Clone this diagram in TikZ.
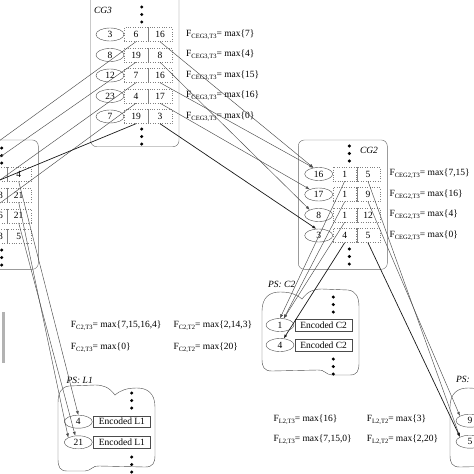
\documentclass[tikz,border=0pt]{standalone}
\usepackage{fontspec}
\setmainfont{Liberation Serif}
\usetikzlibrary{positioning, calc}
\usetikzlibrary{shapes,arrows.meta}
\tikzstyle{ent} = [ellipse, draw=black!70, minimum width=28pt, minimum height=13pt, inner sep=0pt]
\tikzstyle{cell} = [rectangle, draw=black!50, dotted, minimum width=24pt, minimum height=14pt, inner sep=0pt]
\tikzstyle{enc} = [rectangle, draw=black!70, minimum width=57pt, minimum height=11.5pt, inner sep=0pt]
\tikzstyle{fval} = [anchor=west, inner sep=0pt]
\tikzstyle{cgbox} = [draw=black!60, rounded corners=6pt]
\tikzstyle{divider} = [draw=black!50]
\tikzstyle{line} = [draw=black!70, line width=0.45pt, -{Latex[length=4pt,width=3pt]}]
\tikzstyle{strong} = [draw=black!90, line width=0.7pt]
\newcommand{\threedots}[2]{\foreach \k in {0,1,2} {\fill (#1,#2+7.5*\k) circle (1.7pt);}}
\newcommand{\fsub}[2]{F\raisebox{-0.5ex}{\fontsize{6.5}{7}\selectfont #1}= max\{#2\}}
\tikzset{psblob/.pic={
  \draw[black!70] (0,22) .. controls (0,8) and (8,3) .. (18,3) .. controls (28,3) and (34,5) .. (40,10)
    .. controls (46,2) and (52,0) .. (60,0) -- (86,1) .. controls (94,2) and (97,8) .. (97,18) -- (97,74)
    .. controls (97,82) and (95,86) .. (88,86) -- (70,86) .. controls (64,86) and (62,80) .. (56,81)
    -- (10,82) .. controls (2,82) and (0,78) .. (0,70) -- cycle;
}}

\begin{document}
\begin{tikzpicture}[x=1pt, y=-1pt, font=\fontsize{9.5}{11}\selectfont]
  \clip (0,0) rectangle (474,474);
  % Boxes
  \draw [cgbox] (90.7,-8) rectangle (179,146.7);
  \draw [cgbox] (-30,140) rectangle (38.3,269.3);
  \draw [cgbox] (298.3,140) rectangle (387.3,269.3);
  \fill [black!30] (1.5,312) rectangle (4.5,363);
  \pic at (262,289) {psblob};
  \pic [xscale=-1] at (155,385) {psblob};
  \pic at (450,385) {psblob};
  \threedots{141.7}{7}
  \threedots{141.7}{129}
  \threedots{1.7}{148}
  \threedots{1.7}{250}
  \threedots{349.3}{146}
  \threedots{349.3}{249}
  \threedots{333.3}{297}
  \threedots{333.3}{359}
  \threedots{131.7}{393}
  \threedots{131.7}{457}
  \node at (103,10) {\textit{CG3}};
  \node at (369,150.7) {\textit{CG2}};
  \node at (281.7,284) {\textit{PS: C2}};
  \node at (79.7,380) {\textit{PS: L1}};
  \node at (463,379) {\textit{PS:}};

  % Place nodes: CG3
  \node [ent] (g3e1) at (110,34.5) {3};
  \node [cell, right of=g3e1, node distance=26pt] (g3a1) {6};
  \node [cell, right of=g3a1, node distance=24pt] (g3b1) {16};
  \node [ent] (g3e2) at (110,55) {8};
  \node [cell, right of=g3e2, node distance=26pt] (g3a2) {19};
  \node [cell, right of=g3a2, node distance=24pt] (g3b2) {8};
  \node [ent] (g3e3) at (110,75.5) {12};
  \node [cell, right of=g3e3, node distance=26pt] (g3a3) {7};
  \node [cell, right of=g3a3, node distance=24pt] (g3b3) {16};
  \node [ent] (g3e4) at (110,96) {23};
  \node [cell, right of=g3e4, node distance=26pt] (g3a4) {4};
  \node [cell, right of=g3a4, node distance=24pt] (g3b4) {17};
  \node [ent] (g3e5) at (110,116.5) {7};
  \node [cell, right of=g3e5, node distance=26pt] (g3a5) {19};
  \node [cell, right of=g3a5, node distance=24pt] (g3b5) {3};
  \foreach \r in {1,...,5} \draw [divider] (g3a\r.north east) -- (g3a\r.south east);
  \node [fval] (g3f1) at (186,34.5) {\fsub{CEG3,T3}{7}};
  \node [fval] (g3f2) at (186,55) {\fsub{CEG3,T3}{4}};
  \node [fval] (g3f3) at (186,75.5) {\fsub{CEG3,T3}{15}};
  \node [fval] (g3f4) at (186,96) {\fsub{CEG3,T3}{16}};
  \node [fval] (g3f5) at (186,116.5) {\fsub{CEG3,T3}{0}};

  % Place nodes: left group
  \node [cell] (g1a1) at (-5.3,174.3) {};
  \node [cell, right of=g1a1, node distance=24pt] (g1b1) {4};
  \node [cell] (g1a2) at (-5.3,195) {};
  \node [cell, right of=g1a2, node distance=24pt] (g1b2) {21};
  \node [cell] (g1a3) at (-5.3,215.7) {};
  \node [cell, right of=g1a3, node distance=24pt] (g1b3) {21};
  \node [cell] (g1a4) at (-5.3,236) {};
  \node [cell, right of=g1a4, node distance=24pt] (g1b4) {5};
  \foreach \r in {1,...,4} \draw [divider] (g1a\r.north east) -- (g1a\r.south east);
  \node [anchor=east, inner sep=0pt] at (3,195) {8};
  \node [anchor=east, inner sep=0pt] at (3,215.7) {6};
  \node [anchor=east, inner sep=0pt] at (3,236) {8};
  \coordinate (w1) at (-25,158.4);
  \coordinate (w2) at (-25,174.5);
  \coordinate (w3) at (-25,197.8);
  \coordinate (w4) at (-25,221.4);
  \coordinate (w5) at (-25,190.3);

  % Place nodes: CG2
  \node [ent] (g2e1) at (318.7,174) {16};
  \node [cell, right of=g2e1, node distance=26pt] (g2a1) {1};
  \node [cell, right of=g2a1, node distance=23.3pt] (g2b1) {5};
  \node [ent] (g2e2) at (318.7,194.5) {17};
  \node [cell, right of=g2e2, node distance=26pt] (g2a2) {1};
  \node [cell, right of=g2a2, node distance=23.3pt] (g2b2) {9};
  \node [ent] (g2e3) at (318.7,215) {8};
  \node [cell, right of=g2e3, node distance=26pt] (g2a3) {1};
  \node [cell, right of=g2a3, node distance=23.3pt] (g2b3) {12};
  \node [ent] (g2e4) at (318.7,235.5) {3};
  \node [cell, right of=g2e4, node distance=26pt] (g2a4) {4};
  \node [cell, right of=g2a4, node distance=23.3pt] (g2b4) {5};
  \foreach \r in {1,...,4} \draw [divider] (g2a\r.north east) -- (g2a\r.south east);
  \node [fval] (g2f1) at (389.3,174) {\fsub{CEG2,T3}{7,15}};
  \node [fval] (g2f2) at (389.3,194.5) {\fsub{CEG2,T3}{16}};
  \node [fval] (g2f3) at (389.3,215) {\fsub{CEG2,T3}{4}};
  \node [fval] (g2f4) at (389.3,235.5) {\fsub{CEG2,T3}{0}};

  % Place nodes: publisher stores
  \node [ent] (c2e1) at (280,325) {1};
  \node [enc, right=0.7pt of c2e1] (c2r1) {Encoded C2};
  \node [ent] (c2e2) at (280,345) {4};
  \node [enc, right=0.7pt of c2e2] (c2r2) {Encoded C2};
  \node [ent] (l1e1) at (78.3,421.7) {4};
  \node [enc, right=0.7pt of l1e1] (l1r1) {Encoded L1};
  \node [ent] (l1e2) at (78.3,442.3) {21};
  \node [enc, right=0.7pt of l1e2] (l1r2) {Encoded L1};
  \node [ent] (l2e1) at (470,420.7) {9};
  \node [ent] (l2e2) at (470,441.7) {5};

  % Filter values
  \node [fval] at (70.7,326) {\fsub{C2,T3}{7,15,16,4}};
  \node [fval] at (173.3,326) {\fsub{C2,T2}{2,14,3}};
  \node [fval] at (70.7,347.3) {\fsub{C2,T3}{0}};
  \node [fval] at (173.3,347.3) {\fsub{C2,T2}{20}};
  \node [fval] at (273.3,419.3) {\fsub{L2,T3}{16}};
  \node [fval] at (366.7,419.3) {\fsub{L2,T2}{3}};
  \node [fval] at (273.3,440) {\fsub{L2,T3}{7,15,0}};
  \node [fval] at (366.7,440) {\fsub{L2,T2}{2,20}};

  % Draw edges
  \path [line] (g3a1.south) -- (w1);
  \path [line] (g3a2.south) -- (w2);
  \path [line] (g3a3.south) -- (w3);
  \path [line] (g3a4.south) -- (w4);
  \path [line, strong] (g3a5.south) -- (w5);
  \path [line] (g3b1.south) -- (g2e1.130);
  \path [line] (g3b2.south) -- (g2e3.150);
  \path [line] (g3b3.south) -- (g2e1.130);
  \path [line] (g3b4.south) -- (g2e2.150);
  \path [line, strong] (g3b5.south) -- (g2e4.110);
  \path [line] (g1b1.south) -- (l1e1.north);
  \path [line] (g1b2.south) -- (l1e2.north west);
  \path [line] (g1b3.south) -- (l1e2.115);
  \path [line] (g2a1.south) -- (c2e1.north);
  \path [line] (g2a2.south) -- (c2e1.60);
  \path [line] (g2a3.south) -- (c2e1.60);
  \path [line, strong] (g2a4.south) -- (c2e2.60);
  \path [line] (g2b1.south) -- (l2e2.north west);
  \path [line] (g2b2.south) -- (l2e1.north west);
  \path [line, strong] (g2b4.south) -- (l2e2.north west);
\end{tikzpicture}
\end{document}
